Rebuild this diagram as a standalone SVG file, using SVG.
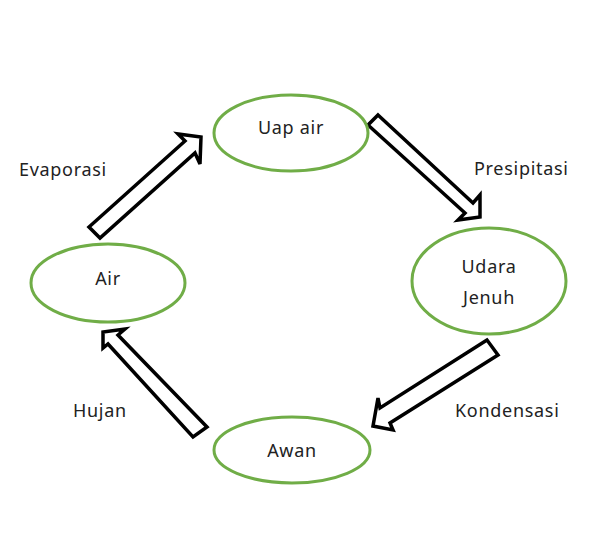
<svg xmlns="http://www.w3.org/2000/svg" width="605" height="555" viewBox="0 0 605 555">
<style>
.node ellipse{fill:#fff;stroke:#70AD47;stroke-width:3}
text{font-family:"Noto Sans","Open Sans","DejaVu Sans",sans-serif;font-size:18px;fill:#222;letter-spacing:0.7px}
.c text{text-anchor:middle}
.arrow{fill:#fff;stroke:#000;stroke-width:3.5;stroke-linejoin:miter}
</style>
<rect width="605" height="555" fill="#fff"/>
<g id="connectors">
<polygon class="arrow" points="89,227 185,141 178,134 201,137 200,164 195,153 100,238"/>
<polygon class="arrow" points="378,115 473,203 480,195 480,217 458,220 465,213 368,125"/>
<polygon class="arrow" points="487,340 380,408 378,398 373,426 393,430 390,423 498,355"/>
<polygon class="arrow" points="207,427 118,335 125,329 103,332 103,348 108,344 193,437"/>
</g>
<g id="node-uap" class="node c"><ellipse cx="291" cy="133" rx="77" ry="38"/><text x="291" y="134">Uap air</text></g>
<g id="node-udara" class="node c"><ellipse cx="489" cy="281" rx="77" ry="53"/><text x="489" y="273">Udara</text><text x="489" y="304">Jenuh</text></g>
<g id="node-air" class="node c"><ellipse cx="108" cy="283" rx="77" ry="39"/><text x="108" y="285">Air</text></g>
<g id="node-awan" class="node c"><ellipse cx="292" cy="450" rx="78" ry="33"/><text x="292" y="457">Awan</text></g>
<g id="labels">
<text x="19" y="176">Evaporasi</text>
<text x="474" y="175">Presipitasi</text>
<text x="455" y="417">Kondensasi</text>
<text x="73" y="417">Hujan</text>
</g>
</svg>
